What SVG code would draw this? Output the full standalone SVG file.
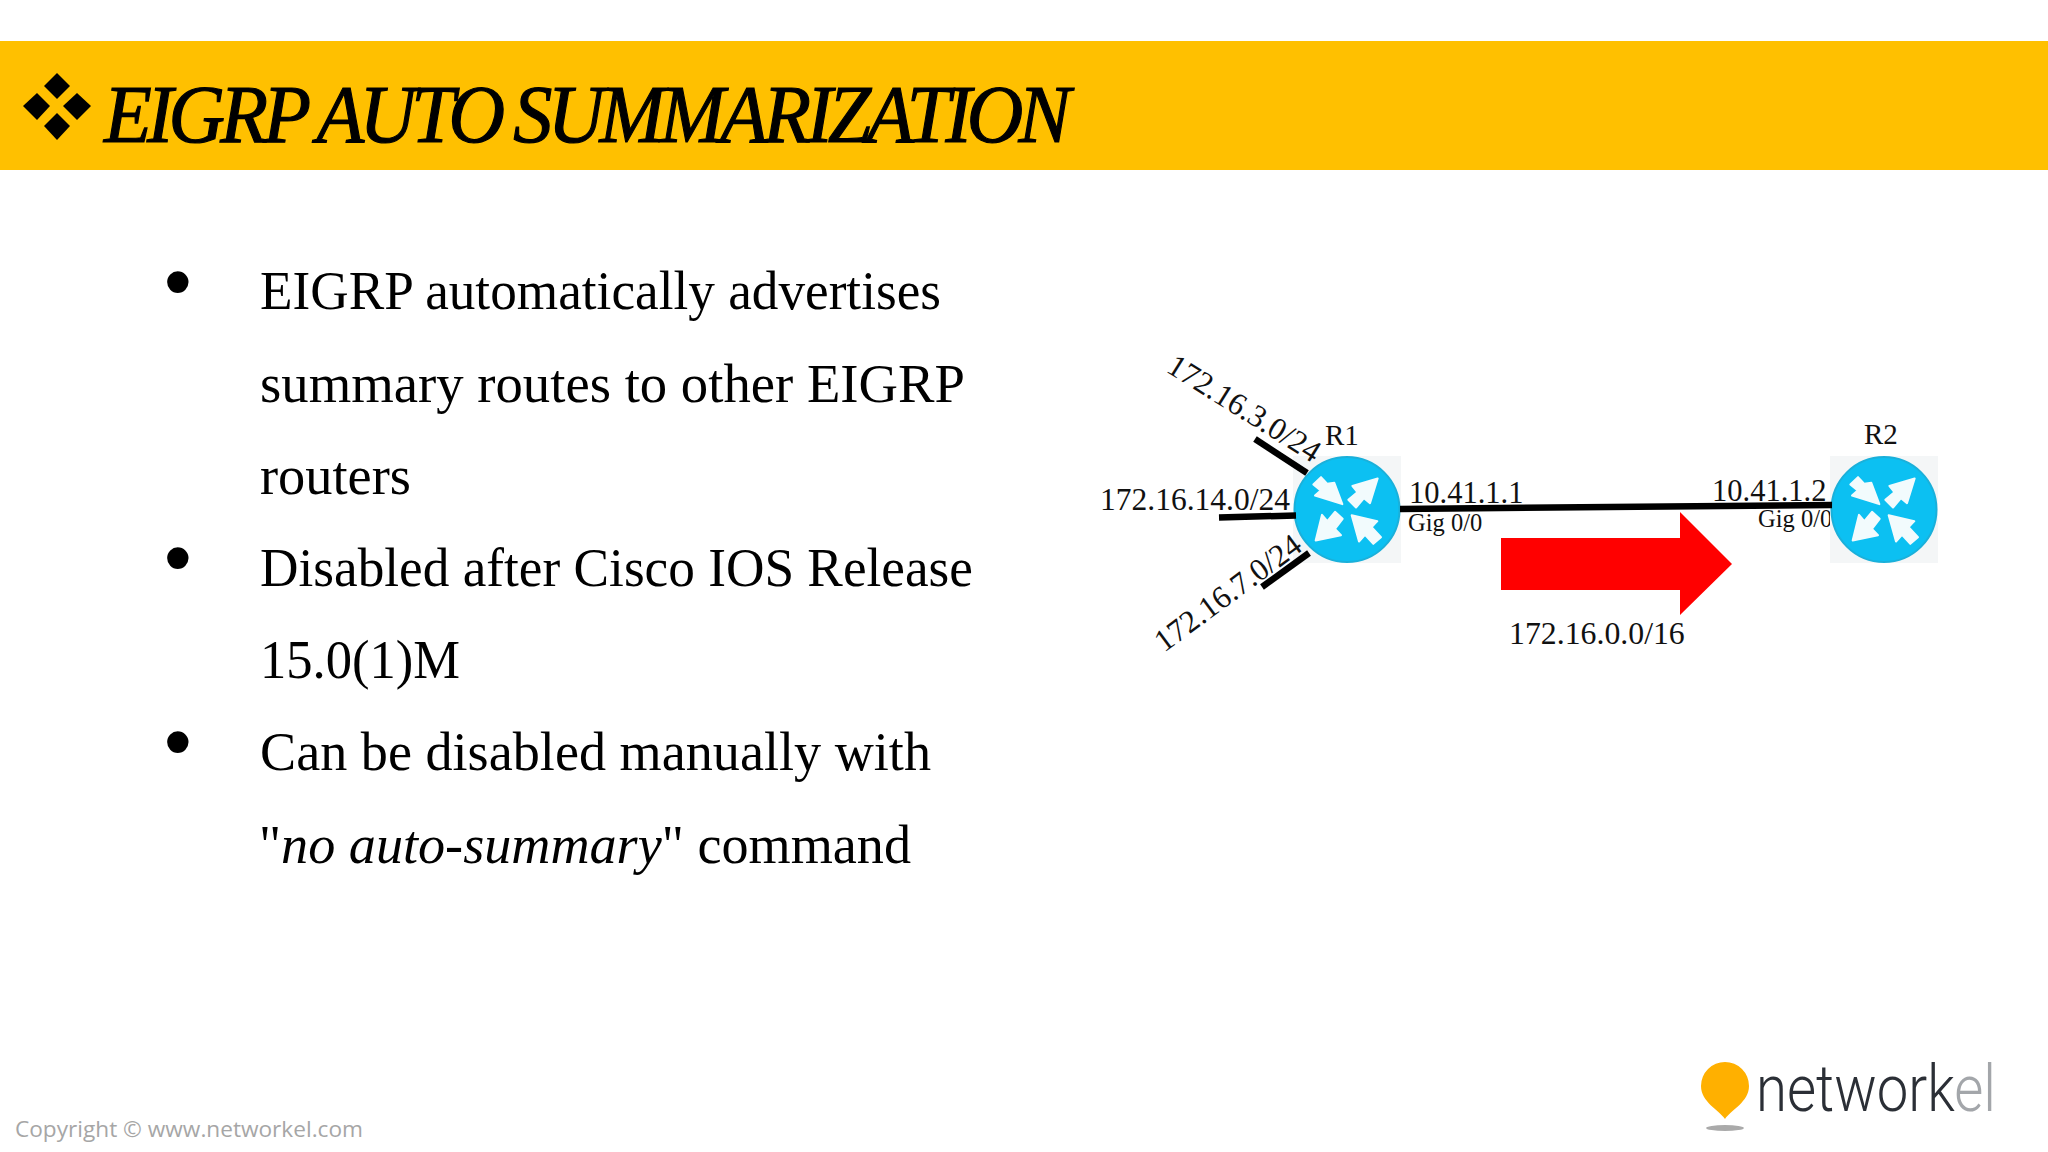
<svg xmlns="http://www.w3.org/2000/svg" xmlns:xlink="http://www.w3.org/1999/xlink" width="2048" height="1152" viewBox="0 0 2048 1152">
<style>
.serif{font-family:"Liberation Serif","Times New Roman",serif;fill:#111}
.body{font-size:54px;fill:#000}
.lbl{font-size:31.5px}
.ip{font-size:30.5px}
.gig{font-size:24.500px}
.wire{stroke:#000;stroke-width:6.5;fill:none}
.bullet{font-family:"Liberation Sans",Arial,sans-serif;font-size:79px;fill:#000}
</style>
<defs>
<symbol id="router" overflow="visible" viewBox="0 0 108 108" width="108" height="108">
<rect x="0" y="0" width="108" height="107" fill="#f4f6f7"/>
<circle cx="54" cy="53.5" r="52.5" fill="#0cc0f2" stroke="#1ab0da" stroke-width="2"/>
<g fill="#f2fbfd" stroke="#f2fbfd" stroke-width="6" stroke-linejoin="round" transform="translate(54 53.5) scale(.3333) translate(-771 -507)">
<polygon points="693,410 670,432 692,450 675,465 757,491 733,427 712,430"/>
<polygon points="863,414 787,436 802,455 775,478 798,501 822,473 840,488"/>
<polygon points="677,600 753,584 735,565 758,535 735,514 712,542 696,523"/>
<polygon points="785,524 807,603 825,583 850,610 873,590 845,560 862,542"/>
</g>
</symbol>
</defs>
<rect width="2048" height="1152" fill="#fff"/>
<g id="banner">
<rect x="0" y="41" width="2048" height="129" fill="#ffc000"/>
<g fill="#000">
<polygon points="57,73 70,86 57,99 44,86"/>
<polygon points="57,113 70,126 57,140 44,126"/>
<polygon points="37,93 50,106 37,120 23,106"/>
<polygon points="77,93 91,106 77,120 63,106"/>
</g>
<text x="104" y="142" font-family="'Liberation Serif','Times New Roman',serif" font-style="italic" font-size="83" fill="#000" stroke="#000" stroke-width="1.200" letter-spacing="-5" word-spacing="-2" textLength="962" lengthAdjust="spacingAndGlyphs">EIGRP AUTO SUMMARIZATION</text>
</g>
<g id="bullets">
<text class="bullet" x="164" y="309">•</text>
<text class="bullet" x="164" y="585">•</text>
<text class="bullet" x="164" y="769">•</text>
<text class="serif body" x="260" y="309" textLength="681" lengthAdjust="spacingAndGlyphs">EIGRP automatically advertises</text>
<text class="serif body" x="260" y="402" textLength="705" lengthAdjust="spacingAndGlyphs">summary routes to other EIGRP</text>
<text class="serif body" x="260" y="494" textLength="151" lengthAdjust="spacingAndGlyphs">routers</text>
<text class="serif body" x="260" y="586" textLength="713" lengthAdjust="spacingAndGlyphs">Disabled after Cisco IOS Release</text>
<text class="serif body" x="260" y="678" textLength="200" lengthAdjust="spacingAndGlyphs">15.0(1)M</text>
<text class="serif body" x="260" y="770" textLength="671" lengthAdjust="spacingAndGlyphs">Can be disabled manually with</text>
<text class="serif body" x="259" y="863" textLength="652" lengthAdjust="spacingAndGlyphs">"<tspan font-style="italic">no auto-summary</tspan>" command</text>
</g>
<g id="summary-arrow">
<polygon points="1501,538 1680,538 1680,512 1732,564 1680,615 1680,590 1501,590" fill="#ff0000"/>
<text class="serif lbl" x="1509" y="644" style="font-size:31.8px">172.16.0.0/16</text>
</g>
<g id="R1">
<use xlink:href="#router" href="#router" x="1293" y="456"/>
<text class="serif" font-size="29" x="1325" y="445">R1</text>
<text class="serif lbl" x="1100" y="510">172.16.14.0/24</text>
<text class="serif lbl" transform="translate(1165 371) rotate(32)">172.16.3.0/24</text>
<text class="serif lbl" transform="translate(1164 653) rotate(-36.500)">172.16.7.0/24</text>
<text class="serif ip" x="1409" y="503">10.41.1.1</text>
<text class="serif gig" x="1408" y="531">Gig 0/0</text>
</g>
<g id="R2">
<text class="serif gig" x="1758" y="527">Gig 0/0</text>
<use xlink:href="#router" href="#router" x="1830" y="456"/>
<text class="serif" font-size="29" x="1864" y="444">R2</text>
<text class="serif ip" x="1712" y="501">10.41.1.2</text>
</g>
<g id="connectors">
<line class="wire" x1="1255" y1="439" x2="1307" y2="473"/>
<line class="wire" x1="1219" y1="517.500" x2="1296" y2="515.500"/>
<line class="wire" x1="1262" y1="587" x2="1309" y2="553"/>
<line class="wire" x1="1400" y1="509" x2="1832" y2="505"/>
</g>
<g id="logo">
<ellipse cx="1725" cy="1128" rx="19" ry="3" fill="#aaa"/>
<path d="M1725 1119 C1719 1110 1701 1102 1701 1086 A24 24 0 0 1 1749 1086 C1749 1102 1731 1110 1725 1119Z" fill="#ffb000"/>
<text x="1756" y="1111" font-family="Roboto,'Noto Sans',sans-serif" font-weight="300" font-size="64" fill="#2b2f36" textLength="240" lengthAdjust="spacingAndGlyphs">network<tspan fill="#a3a6aa">el</tspan></text>
</g>
<text id="copyright" x="15" y="1137" font-family="'Open Sans','Noto Sans',sans-serif" font-size="22" fill="#a6a6a6" textLength="348" lengthAdjust="spacingAndGlyphs">Copyright © www.networkel.com</text>
</svg>
